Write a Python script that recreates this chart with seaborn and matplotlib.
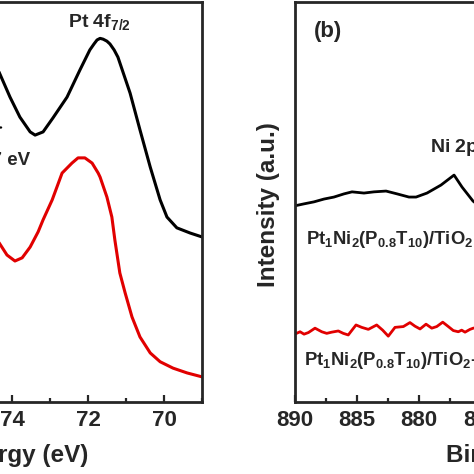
import numpy as np
import pandas as pd
import matplotlib
matplotlib.use("Agg")
import matplotlib.pyplot as plt
from matplotlib.ticker import MultipleLocator
import seaborn as sns

# Pt 4f region (panel a, only its right part is visible)
pt_be_black = [74.35, 74.06, 73.80, 73.53, 73.40, 73.19, 72.93, 72.56, 72.22, 71.96, 71.85, 71.77, 71.69,
               71.61, 71.51, 71.43, 71.32, 71.22, 71.06, 70.90, 70.64, 70.37, 70.11, 69.93, 69.67, 69.32, 69.0]
pt_int_black = [0.825, 0.762, 0.712, 0.675, 0.667, 0.675, 0.710, 0.762, 0.830, 0.880, 0.895, 0.905, 0.909,
                0.907, 0.902, 0.895, 0.880, 0.862, 0.817, 0.772, 0.680, 0.587, 0.505, 0.462, 0.435, 0.422, 0.412]
pt_be_red = [74.35, 74.14, 73.93, 73.74, 73.53, 73.32, 73.19, 72.95, 72.69, 72.43, 72.27, 72.09, 71.90,
             71.74, 71.69, 71.51, 71.38, 71.30, 71.17, 71.03, 70.85, 70.64, 70.37, 70.11, 69.77, 69.40, 69.0]
pt_int_red = [0.398, 0.367, 0.352, 0.360, 0.387, 0.425, 0.455, 0.505, 0.572, 0.597, 0.610, 0.610, 0.597,
              0.572, 0.562, 0.512, 0.462, 0.404, 0.322, 0.272, 0.212, 0.162, 0.122, 0.100, 0.084, 0.072, 0.062]

# Ni 2p region (panel b, only its left part is visible)
ni_be_black = [890.0, 889.25, 888.45, 887.65, 886.85, 886.04, 885.40, 884.44, 883.64, 882.67,
               881.79, 880.83, 880.26, 879.38, 878.26, 877.21, 876.57, 875.69, 875.2]
ni_int_black = [0.490, 0.495, 0.500, 0.507, 0.512, 0.520, 0.525, 0.522, 0.525, 0.527,
                0.520, 0.512, 0.512, 0.522, 0.542, 0.567, 0.537, 0.502, 0.490]
ni_be_red = [890.0, 889.57, 889.25, 888.90, 888.37, 887.83, 887.43, 887.03, 886.50, 886.10, 885.70,
             885.08, 884.62, 884.09, 883.42, 882.94, 882.49, 881.95, 881.28, 880.75, 880.35, 879.94,
             879.46, 879.00, 878.60, 878.12, 877.67, 877.27, 876.87, 876.60, 876.33, 875.93, 875.67, 875.2]
ni_int_red = [0.169, 0.175, 0.169, 0.173, 0.184, 0.175, 0.171, 0.174, 0.177, 0.171, 0.167,
              0.192, 0.186, 0.181, 0.192, 0.179, 0.164, 0.186, 0.188, 0.198, 0.189, 0.182,
              0.194, 0.184, 0.188, 0.199, 0.188, 0.178, 0.175, 0.179, 0.174, 0.181, 0.184, 0.186]

sample_label = r"Pt$_1$Ni$_2$(P$_{0.8}$T$_{10}$)/TiO$_2$"

sns.set_style("ticks")
plt.rcParams["font.family"] = ["Liberation Sans", "DejaVu Sans"]
plt.rcParams["font.weight"] = "bold"
plt.rcParams["mathtext.fontset"] = "custom"
plt.rcParams["mathtext.rm"] = "Liberation Sans:bold"
plt.rcParams["mathtext.bf"] = "Liberation Sans:bold"
plt.rcParams["mathtext.it"] = "Liberation Sans:bold"
plt.rcParams["mathtext.default"] = "bf"

red = "#e10000"
W = 311.0  # panel width in px

fig = plt.figure(figsize=(4.74, 4.74), dpi=100)
ax1 = fig.add_axes([(202.3 - W) / 474, 0.1525, W / 474, 0.8433])
ax2 = fig.add_axes([294.7 / 474, 0.1525, W / 474, 0.8433])

df_pt_k = pd.DataFrame({"be": pt_be_black, "I": pt_int_black})
df_pt_r = pd.DataFrame({"be": pt_be_red, "I": pt_int_red})
df_ni_k = pd.DataFrame({"be": ni_be_black, "I": ni_int_black})
df_ni_r = pd.DataFrame({"be": ni_be_red, "I": ni_int_red})

sns.lineplot(data=df_pt_k, x="be", y="I", color="black", lw=2.2, ax=ax1, estimator=None)
sns.lineplot(data=df_pt_r, x="be", y="I", color=red, lw=2.2, ax=ax1, estimator=None)
sns.lineplot(data=df_ni_k, x="be", y="I", color="black", lw=2.0, ax=ax2, estimator=None)
sns.lineplot(data=df_ni_r, x="be", y="I", color=red, lw=2.0, ax=ax2, estimator=None)

ax1.set_xlim(69 + W / 38.0, 69)
ax2.set_xlim(890, 890 - W / 12.46)
ax1.xaxis.set_major_locator(MultipleLocator(2))
ax1.xaxis.set_minor_locator(MultipleLocator(1))
ax2.xaxis.set_major_locator(MultipleLocator(5))
ax2.xaxis.set_minor_locator(MultipleLocator(2.5))

for ax in (ax1, ax2):
    ax.set_ylim(0, 1)
    ax.set_yticks([])
    ax.set_xlabel("")
    ax.set_ylabel("")
    for s in ax.spines.values():
        s.set_visible(True)
        s.set_linewidth(2.0)
    ax.tick_params(axis="x", which="major", direction="in", length=5, width=1.6,
                   labelsize=16, pad=6)
    ax.tick_params(axis="x", which="minor", direction="in", length=3, width=1.6)
    for t in ax.get_xticklabels():
        t.set_fontweight("bold")

# annotations, panel a
ax1.text(72.53, 0.937, r"Pt 4f$_{7/2}$", fontsize=14, ha="left", va="baseline")
ax1.text(73.53, 0.592, "0.7 eV", fontsize=13.5, ha="right", va="baseline")
ax1.annotate("", xy=(74.22, 0.686), xytext=(75.0, 0.686),
             arrowprops=dict(arrowstyle="-", lw=1.6, color="black"))

# annotations, panel b
ax2.text(0.107, 0.927, "(b)", transform=ax2.transAxes, fontsize=16, ha="center", va="center")
ax2.text(879.14, 0.625, r"Ni 2p$_{3/2}$", fontsize=14, ha="left", va="baseline")
ax2.text(889.07, 0.394, sample_label, fontsize=13.3, ha="left", va="baseline")
ax2.text(889.25, 0.092, sample_label + "-R", fontsize=13.3, ha="left", va="baseline")

fig.text(88 / 474, 0.038, "Binding Energy (eV)", fontsize=17.5, ha="right", va="center")
fig.text(446 / 474, 0.038, "Binding Energy (eV)", fontsize=17.5, ha="left", va="center")
fig.text(268 / 474, (474 - 204.5) / 474, "Intensity (a.u.)", fontsize=17.5,
         rotation=90, ha="center", va="center")

fig.savefig("out.png", dpi=100)
